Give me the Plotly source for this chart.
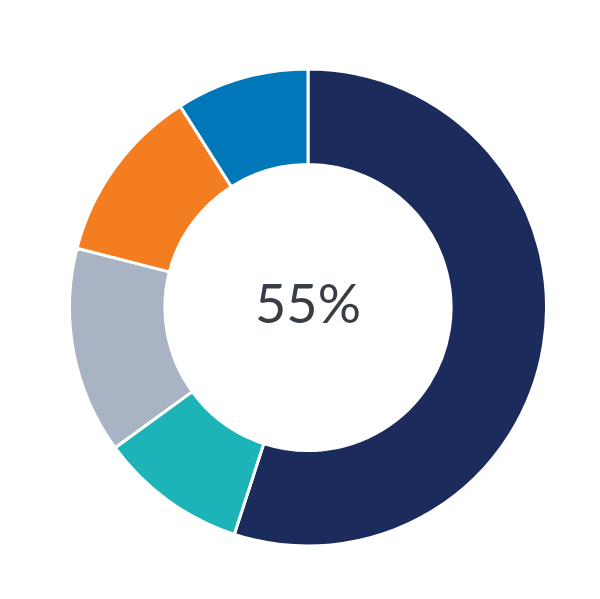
import plotly.graph_objects as go

labels = ["A", "B", "C", "D", "E"]
values = [55, 10, 14, 12, 9]
colors = ["#1b2b5b", "#1cb4b8", "#a8b4c3", "#f47d20", "#0077b8"]
center_text = "55%"

fig = go.Figure(go.Pie(
    labels=labels,
    values=values,
    hole=0.6,
    sort=False,
    direction="clockwise",
    rotation=0,
    marker=dict(colors=colors, line=dict(color="white", width=3)),
    textinfo="none",
    hoverinfo="label+percent",
    showlegend=False,
))

fig.update_layout(
    width=600, height=599,
    margin=dict(l=61, r=61, t=61, b=61),
    paper_bgcolor="white",
    plot_bgcolor="white",
    annotations=[dict(text=center_text, x=0.5, y=0.5, xref="paper", yref="paper",
                      showarrow=False, yshift=5,
                      font=dict(family="Lato", size=54, color="#383e45"))],
)

fig.write_html("out.html")
